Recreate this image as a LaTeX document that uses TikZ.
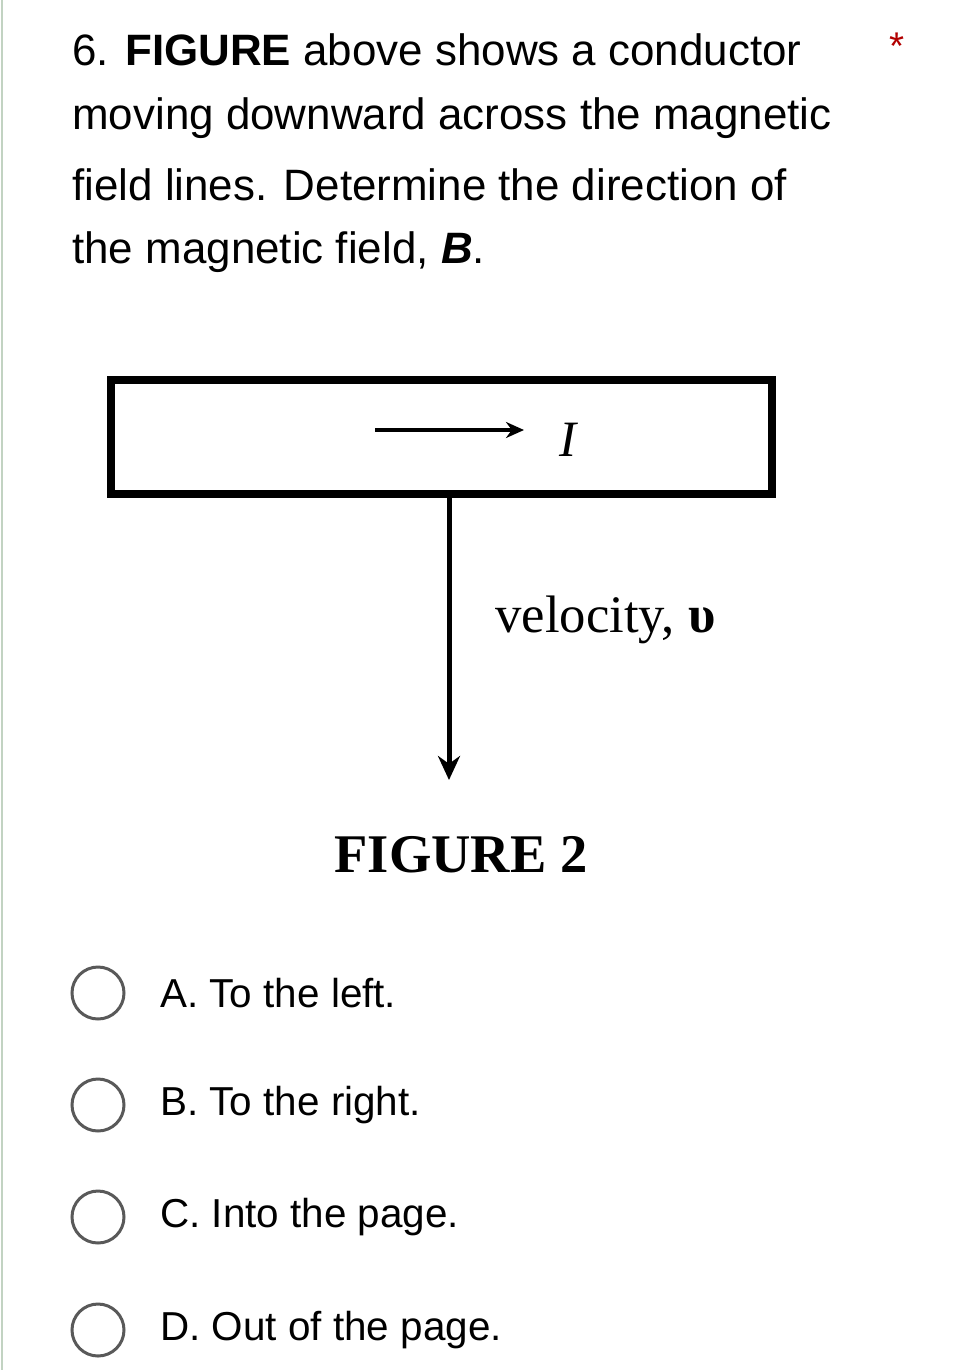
\documentclass[tikz,border=0pt]{standalone}
\usepackage{fontspec}
\setmainfont{Liberation Sans}
\newfontfamily\serifq{Liberation Serif}
\usetikzlibrary{arrows.meta}
\begin{document}
\begin{tikzpicture}[x=0.02cm,y=-0.02cm,
  qtext/.style={anchor=west,font=\fontsize{25}{30}\selectfont,inner sep=0},
  radio/.style={circle,draw=black!65,line width=3*0.02cm,minimum size=52*0.02cm,inner sep=0}]
\useasboundingbox (0,0) rectangle (961,1370);
\draw[black!15!green!20!gray!40,line width=2*0.02cm] (2,0)--(2,1370);
\node[qtext] (l1) at (72,50) {6. \textbf{FIGURE} above shows a conductor};
\node[qtext] (l2) at (72,118) {moving downward across the magnetic};
\node[qtext] (l3) at (72,185) {field lines. Determine the direction of};
\node[qtext] (l4) at (72,252) {the magnetic field, \textbf{\textit{B}}.};
\node[text=red!70!black,font=\fontsize{22}{26}\selectfont] (star) at (897,46) {*};
\node[draw,line width=8*0.02cm,minimum width=661*0.02cm,minimum height=114*0.02cm,anchor=north west,inner sep=0] (box) at (107,376) {};
\coordinate (ia) at (375,430); \coordinate (ib) at (524,430);
\draw[line width=4*0.02cm,-{Stealth[length=18*0.02cm,width=16*0.02cm]}] (ia)--(ib);
\node[font=\serifq\itshape\fontsize{29}{32}\selectfont] (I) at (568,440) {I};
\coordinate (vb) at (449,780);
\draw[line width=5*0.02cm,-{Stealth[length=24*0.02cm,width=22*0.02cm]}] (449,490)--(vb);
\node[anchor=west,font=\serifq\fontsize{30}{34}\selectfont,inner sep=0] (vel) at (495,620) {velocity, \textbf{υ}};
\node[font=\serifq\bfseries\fontsize{31}{34}\selectfont] (fig) at (461,855) {FIGURE 2};
\foreach \y/\t/\n in {993/A. To the left./a,1105/B. To the right./b,1217/C. Into the page./c,1330/D. Out of the page./d}{
  \node[radio] (r\n) at (98,\y) {};
  \node[qtext,font=\fontsize{23}{28}\selectfont] (o\n) at (160,\y) {\t};
}
\end{tikzpicture}
\end{document}
